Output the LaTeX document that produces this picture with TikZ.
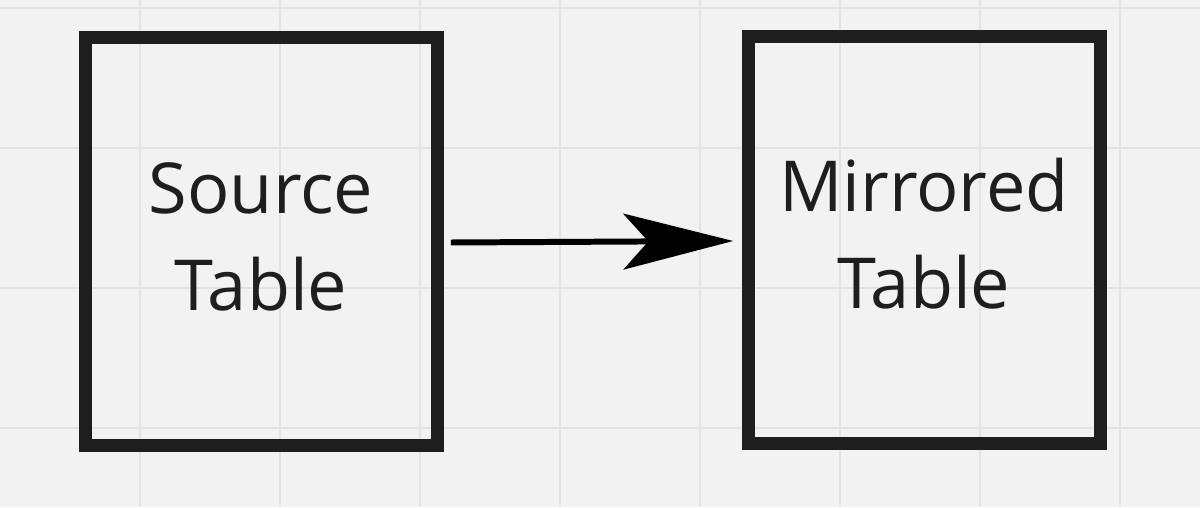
\documentclass[tikz,border=0pt]{standalone}
\usepackage{fontspec}
\setmainfont{Open Sans}
\usetikzlibrary{arrows.meta}
\definecolor{bg}{HTML}{F2F2F2}
\definecolor{gridc}{HTML}{E2E2E2}
\definecolor{ink}{HTML}{1E1E1E}
\begin{document}
\begin{tikzpicture}[x=0.025cm,y=-0.025cm,
  box/.style={draw=ink,line width=13*0.709pt,minimum width=353*0.709pt,minimum height=409*0.709pt,inner sep=0pt},
  lbl/.style={text=ink,font=\fontsize{50}{69}\selectfont,align=center}]
\fill[bg] (0,0) rectangle (1200,507);
\useasboundingbox (0,0) rectangle (1200,507);
\foreach \x in {140,280,420,560,700,840,980,1120} \draw[gridc,line width=1pt] (\x,0) -- (\x,507);
\foreach \y in {8,148,288,428} \draw[gridc,line width=1pt] (0,\y) -- (1200,\y);
\node[box] (src) at (261.5,241.5) {};
\node[box] (mir) at (924.5,240) {};
\node[lbl] (srct) at (261,237) {Source\\Table};
\node[lbl] (mirt) at (924,234) {Mirrored\\Table};
\draw[black,line width=6*0.709pt,-{Stealth[length=110*0.709pt,width=56*0.709pt,inset=25*0.709pt]}]
  ([xshift=7*0.709pt,yshift=-1*0.709pt]src.east) -- ([xshift=-9*0.709pt,yshift=-1*0.709pt]mir.west);
\end{tikzpicture}
\end{document}
